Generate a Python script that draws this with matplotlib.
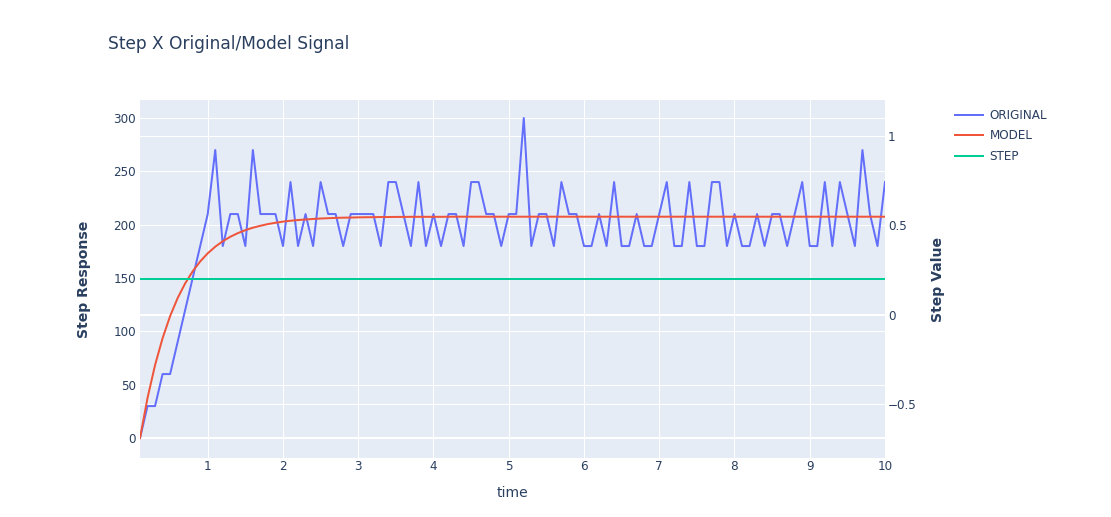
import matplotlib
matplotlib.use("Agg")
import matplotlib.pyplot as plt
from matplotlib.lines import Line2D
from matplotlib.transforms import blended_transform_factory

# ---------------- data ----------------
time = [0.1, 0.2, 0.3, 0.4, 0.5, 0.6, 0.7, 0.8, 0.9, 1.0,
        1.1, 1.2, 1.3, 1.4, 1.5, 1.6, 1.7, 1.8, 1.9, 2.0,
        2.1, 2.2, 2.3, 2.4, 2.5, 2.6, 2.7, 2.8, 2.9, 3.0,
        3.1, 3.2, 3.3, 3.4, 3.5, 3.6, 3.7, 3.8, 3.9, 4.0,
        4.1, 4.2, 4.3, 4.4, 4.5, 4.6, 4.7, 4.8, 4.9, 5.0,
        5.1, 5.2, 5.3, 5.4, 5.5, 5.6, 5.7, 5.8, 5.9, 6.0,
        6.1, 6.2, 6.3, 6.4, 6.5, 6.6, 6.7, 6.8, 6.9, 7.0,
        7.1, 7.2, 7.3, 7.4, 7.5, 7.6, 7.7, 7.8, 7.9, 8.0,
        8.1, 8.2, 8.3, 8.4, 8.5, 8.6, 8.7, 8.8, 8.9, 9.0,
        9.1, 9.2, 9.3, 9.4, 9.5, 9.6, 9.7, 9.8, 9.9, 10.0]

original = [0, 30, 30, 60, 60, 90, 120, 150, 180, 210,
            270, 180, 210, 210, 180, 270, 210, 210, 210, 180,
            240, 180, 210, 180, 240, 210, 210, 180, 210, 210,
            210, 210, 180, 240, 240, 210, 180, 240, 180, 210,
            180, 210, 210, 180, 240, 240, 210, 210, 180, 210,
            210, 300, 180, 210, 210, 180, 240, 210, 210, 180,
            180, 210, 180, 240, 180, 180, 210, 180, 180, 210,
            240, 180, 180, 240, 180, 180, 240, 240, 180, 210,
            180, 180, 210, 180, 210, 210, 180, 210, 240, 180,
            180, 240, 180, 240, 210, 180, 270, 210, 180, 240]

model = [0.0, 37.6, 68.4, 93.6, 114.3, 131.2, 145.0, 156.3, 165.6, 173.2,
         179.4, 184.5, 188.7, 192.1, 194.9, 197.2, 199.0, 200.6, 201.8, 202.9,
         203.7, 204.4, 204.9, 205.4, 205.8, 206.1, 206.4, 206.6, 206.7, 206.9,
         207.0, 207.1, 207.2, 207.2, 207.3, 207.3, 207.4, 207.4, 207.4, 207.4,
         207.4, 207.5, 207.5, 207.5, 207.5, 207.5, 207.5, 207.5, 207.5, 207.5,
         207.5, 207.5, 207.5, 207.5, 207.5, 207.5, 207.5, 207.5, 207.5, 207.5,
         207.5, 207.5, 207.5, 207.5, 207.5, 207.5, 207.5, 207.5, 207.5, 207.5,
         207.5, 207.5, 207.5, 207.5, 207.5, 207.5, 207.5, 207.5, 207.5, 207.5,
         207.5, 207.5, 207.5, 207.5, 207.5, 207.5, 207.5, 207.5, 207.5, 207.5,
         207.5, 207.5, 207.5, 207.5, 207.5, 207.5, 207.5, 207.5, 207.5, 207.5]

step_value = 0.2
step = [step_value] * len(time)

x_ticks = [1, 2, 3, 4, 5, 6, 7, 8, 9, 10]
left_ticks = [0, 50, 100, 150, 200, 250, 300]
right_ticks = [-0.5, 0, 0.5, 1]
right_tick_labels = ["\u22120.5", "0", "0.5", "1"]

series_names = ["ORIGINAL", "MODEL", "STEP"]
colors = ["#636EFA", "#EF553B", "#00CC96"]

# ---------------- style ----------------
W, H = 1111, 517
TXT = "#2a3f5f"
BG = "#E5ECF6"
px = 72.0 / 100.0  # points per pixel at dpi 100

plt.rcParams["font.family"] = ["DejaVu Sans"]

fig = plt.figure(figsize=(W / 100, H / 100), dpi=100)
L, R, T, B = 140, 885, 100, 457.7
ax = fig.add_axes([L / W, 1 - B / H, (R - L) / W, (B - T) / H])
ax2 = ax.twinx()

ax.set_facecolor(BG)
for a in (ax, ax2):
    for s in a.spines.values():
        s.set_visible(False)

ax.set_xlim(0.1, 10)
ax.set_ylim(-18.4, 316.9)
ax2.set_ylim(-0.8, 1.2)

# grid (all drawn on back axes, beneath traces)
ax.set_xticks(x_ticks)
ax.set_yticks(left_ticks)
ax.grid(True, color="white", linewidth=1 * px, zorder=0)
ax.set_axisbelow(True)
# zero line left
ax.axhline(0, color="white", linewidth=2 * px, zorder=0.6)
# right-axis gridlines on back axes
btf = blended_transform_factory(ax.transAxes, ax2.transData)
for v in right_ticks:
    ax.plot([0, 1], [v, v], transform=btf, color="white",
            linewidth=(2 if v == 0 else 1) * px, zorder=0.5)

# traces
ax.plot(time, original, color=colors[0], linewidth=2 * px, zorder=2)
ax.plot(time, model, color=colors[1], linewidth=2 * px, zorder=3)
ax2.plot(time, step, color=colors[2], linewidth=2 * px, zorder=3)

# ticks
ax.tick_params(axis="both", length=0, labelsize=12 * px, labelcolor=TXT)
ax.tick_params(axis="y", pad=3)
ax.tick_params(axis="x", pad=2)
ax2.set_yticks(right_ticks)
ax2.set_yticklabels(right_tick_labels)
ax2.tick_params(axis="y", length=0, labelsize=12 * px, labelcolor=TXT, pad=2)
ax2.grid(False)

# titles
fig.text(108 / W, 1 - 44 / H, "Step X Original/Model Signal",
         fontsize=17 * px, color=TXT, ha="left", va="center")
fig.text((L + R) / 2 / W, 1 - 493 / H, "time", fontsize=14 * px,
         color=TXT, ha="center", va="center")
fig.text(84 / W, 1 - 279 / H, "Step Response", fontsize=14 * px,
         color=TXT, ha="center", va="center", rotation=90, fontweight="bold")
fig.text(938 / W, 1 - 279 / H, "Step Value", fontsize=14 * px,
         color=TXT, ha="center", va="center", rotation=90, fontweight="bold")

# legend
handles = [Line2D([], [], color=c, linewidth=2 * px) for c in colors]
leg = fig.legend(handles, series_names, loc="upper left",
                 bbox_to_anchor=(955 / W, 1 - 109 / H),
                 frameon=False, fontsize=12 * px, borderpad=0,
                 borderaxespad=0, handlelength=2.33, handletextpad=0.55,
                 labelspacing=0.62)
for t in leg.get_texts():
    t.set_color(TXT)

fig.savefig("out.png", dpi=100)
